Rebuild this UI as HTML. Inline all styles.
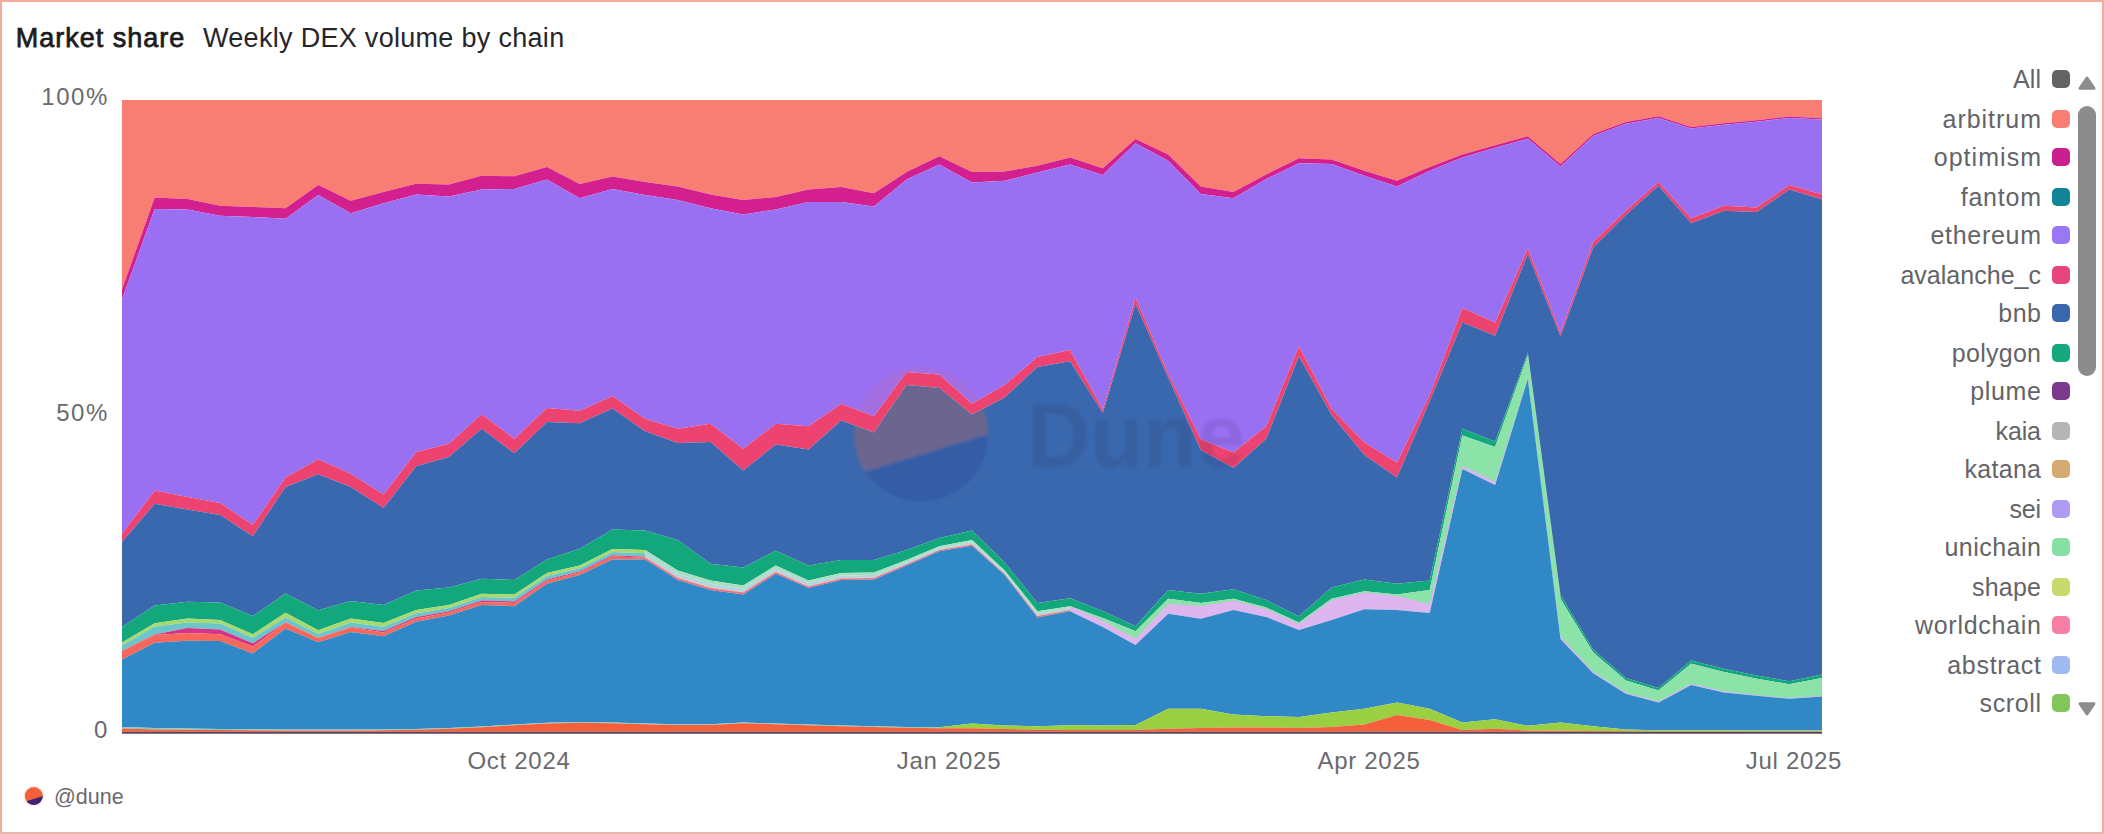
<!DOCTYPE html>
<html><head><meta charset="utf-8"><title>Market share</title>
<style>
html,body{margin:0;padding:0;background:#fff;}
body{width:2104px;height:834px;overflow:hidden;position:relative;font-family:"Liberation Sans",sans-serif;}
#frame{position:absolute;left:0;top:0;width:2100px;height:830px;border:2px solid #F6AC9D;border-bottom-color:#E5B6AC;background:#fff;}
.t{position:absolute;white-space:nowrap;}
#title{left:15.8px;top:21.5px;font-size:27px;font-weight:normal;-webkit-text-stroke:0.75px #1c1c1e;color:#1c1c1e;line-height:32px;letter-spacing:1.0px}
#sub{left:203px;top:21.5px;font-size:27px;color:#26262a;line-height:32px;letter-spacing:0.3px}
.yl{position:absolute;right:1995px;letter-spacing:1.6px;font-size:24px;color:#6a6a6e;line-height:28px;text-align:right;white-space:nowrap}
.xl{position:absolute;top:746.5px;letter-spacing:0.7px;font-size:24px;color:#6a6a6e;line-height:28px;transform:translateX(-50%);white-space:nowrap}
.lg{position:absolute;right:34px;height:38px;line-height:38px;font-size:25px;color:#646468;white-space:nowrap;text-align:right}
.lg span{display:inline-block;vertical-align:middle;margin-right:11px}
.lg i{display:inline-block;vertical-align:middle;width:18px;height:18px;border-radius:5px}
#sb{position:absolute;left:2078px;top:106px;width:18px;height:269.7px;border-radius:9px;background:#8c8c8c}
#foot{left:54px;top:783px;font-size:21.5px;color:#6a6a6e;line-height:28px}
svg{position:absolute;left:0;top:0}
</style></head><body>
<div id="frame"></div>
<div id="title" class="t">Market share</div>
<div id="sub" class="t">Weekly DEX volume by chain</div>
<div class="yl" style="top:83px">100%</div>
<div class="yl" style="top:399px">50%</div>
<div class="yl" style="top:716px">0</div>
<svg width="2104" height="834" viewBox="0 0 2104 834">
<g shape-rendering="geometricPrecision">
<polygon fill="#F87D73" points="122.0,100.0 154.7,100.0 187.4,100.0 220.1,100.0 252.8,100.0 285.5,100.0 318.2,100.0 350.8,100.0 383.5,100.0 416.2,100.0 448.9,100.0 481.6,100.0 514.3,100.0 547.0,100.0 579.7,100.0 612.4,100.0 645.1,100.0 677.8,100.0 710.5,100.0 743.2,100.0 775.8,100.0 808.5,100.0 841.2,100.0 873.9,100.0 906.6,100.0 939.3,100.0 972.0,100.0 1004.7,100.0 1037.4,100.0 1070.1,100.0 1102.8,100.0 1135.5,100.0 1168.2,100.0 1200.8,100.0 1233.5,100.0 1266.2,100.0 1298.9,100.0 1331.6,100.0 1364.3,100.0 1397.0,100.0 1429.7,100.0 1462.4,100.0 1495.1,100.0 1527.8,100.0 1560.5,100.0 1593.2,100.0 1625.8,100.0 1658.5,100.0 1691.2,100.0 1723.9,100.0 1756.6,100.0 1789.3,100.0 1822.0,100.0 1822.0,118.2 1789.3,116.5 1756.6,120.2 1723.9,123.2 1691.2,127.0 1658.5,116.2 1625.8,122.0 1593.2,134.0 1560.5,164.0 1527.8,136.2 1495.1,145.2 1462.4,154.5 1429.7,167.0 1397.0,180.8 1364.3,170.8 1331.6,159.5 1298.9,158.2 1266.2,174.5 1233.5,192.0 1200.8,186.5 1168.2,154.5 1135.5,139.0 1102.8,168.2 1070.1,157.5 1037.4,165.8 1004.7,171.5 972.0,172.0 939.3,156.2 906.6,172.0 873.9,193.2 841.2,187.0 808.5,189.5 775.8,197.0 743.2,200.0 710.5,194.5 677.8,186.5 645.1,182.0 612.4,176.5 579.7,184.0 547.0,167.0 514.3,176.2 481.6,175.8 448.9,184.5 416.2,183.8 383.5,192.0 350.8,200.8 318.2,185.0 285.5,208.2 252.8,207.0 220.1,205.8 187.4,199.0 154.7,197.5 122.0,289.5"/>
<polygon fill="#D4208F" points="122.0,289.5 154.7,197.5 187.4,199.0 220.1,205.8 252.8,207.0 285.5,208.2 318.2,185.0 350.8,200.8 383.5,192.0 416.2,183.8 448.9,184.5 481.6,175.8 514.3,176.2 547.0,167.0 579.7,184.0 612.4,176.5 645.1,182.0 677.8,186.5 710.5,194.5 743.2,200.0 775.8,197.0 808.5,189.5 841.2,187.0 873.9,193.2 906.6,172.0 939.3,156.2 972.0,172.0 1004.7,171.5 1037.4,165.8 1070.1,157.5 1102.8,168.2 1135.5,139.0 1168.2,154.5 1200.8,186.5 1233.5,192.0 1266.2,174.5 1298.9,158.2 1331.6,159.5 1364.3,170.8 1397.0,180.8 1429.7,167.0 1462.4,154.5 1495.1,145.2 1527.8,136.2 1560.5,164.0 1593.2,134.0 1625.8,122.0 1658.5,116.2 1691.2,127.0 1723.9,123.2 1756.6,120.2 1789.3,116.5 1822.0,118.2 1822.0,119.5 1789.3,118.0 1756.6,121.8 1723.9,124.8 1691.2,128.5 1658.5,118.0 1625.8,123.8 1593.2,136.0 1560.5,166.5 1527.8,138.8 1495.1,147.8 1462.4,157.5 1429.7,170.8 1397.0,186.5 1364.3,175.8 1331.6,164.0 1298.9,163.2 1266.2,179.0 1233.5,198.2 1200.8,194.0 1168.2,160.8 1135.5,143.2 1102.8,175.0 1070.1,164.5 1037.4,172.5 1004.7,180.8 972.0,182.5 939.3,164.5 906.6,179.5 873.9,206.5 841.2,202.0 808.5,202.0 775.8,209.5 743.2,214.5 710.5,208.2 677.8,200.0 645.1,195.0 612.4,189.0 579.7,198.2 547.0,179.5 514.3,189.0 481.6,189.5 448.9,196.5 416.2,194.5 383.5,203.2 350.8,213.2 318.2,195.0 285.5,218.8 252.8,217.0 220.1,215.8 187.4,209.5 154.7,209.0 122.0,299.3"/>
<polygon fill="#9A70F3" points="122.0,299.3 154.7,209.0 187.4,209.5 220.1,215.8 252.8,217.0 285.5,218.8 318.2,195.0 350.8,213.2 383.5,203.2 416.2,194.5 448.9,196.5 481.6,189.5 514.3,189.0 547.0,179.5 579.7,198.2 612.4,189.0 645.1,195.0 677.8,200.0 710.5,208.2 743.2,214.5 775.8,209.5 808.5,202.0 841.2,202.0 873.9,206.5 906.6,179.5 939.3,164.5 972.0,182.5 1004.7,180.8 1037.4,172.5 1070.1,164.5 1102.8,175.0 1135.5,143.2 1168.2,160.8 1200.8,194.0 1233.5,198.2 1266.2,179.0 1298.9,163.2 1331.6,164.0 1364.3,175.8 1397.0,186.5 1429.7,170.8 1462.4,157.5 1495.1,147.8 1527.8,138.8 1560.5,166.5 1593.2,136.0 1625.8,123.8 1658.5,118.0 1691.2,128.5 1723.9,124.8 1756.6,121.8 1789.3,118.0 1822.0,119.5 1822.0,194.5 1789.3,185.0 1756.6,207.5 1723.9,205.8 1691.2,218.2 1658.5,182.0 1625.8,210.8 1593.2,242.0 1560.5,332.5 1527.8,248.2 1495.1,322.5 1462.4,308.0 1429.7,395.0 1397.0,462.5 1364.3,442.5 1331.6,408.8 1298.9,346.2 1266.2,426.2 1233.5,452.5 1200.8,439.2 1168.2,373.8 1135.5,297.5 1102.8,409.5 1070.1,350.0 1037.4,357.0 1004.7,385.0 972.0,403.8 939.3,374.5 906.6,372.0 873.9,416.2 841.2,403.8 808.5,426.2 775.8,423.8 743.2,448.8 710.5,423.8 677.8,428.8 645.1,418.8 612.4,396.0 579.7,410.8 547.0,408.0 514.3,438.8 481.6,414.2 448.9,443.8 416.2,452.0 383.5,494.5 350.8,473.8 318.2,459.2 285.5,477.5 252.8,525.0 220.1,503.0 187.4,497.0 154.7,490.5 122.0,533.8"/>
<polygon fill="#EC4370" points="122.0,533.8 154.7,490.5 187.4,497.0 220.1,503.0 252.8,525.0 285.5,477.5 318.2,459.2 350.8,473.8 383.5,494.5 416.2,452.0 448.9,443.8 481.6,414.2 514.3,438.8 547.0,408.0 579.7,410.8 612.4,396.0 645.1,418.8 677.8,428.8 710.5,423.8 743.2,448.8 775.8,423.8 808.5,426.2 841.2,403.8 873.9,416.2 906.6,372.0 939.3,374.5 972.0,403.8 1004.7,385.0 1037.4,357.0 1070.1,350.0 1102.8,409.5 1135.5,297.5 1168.2,373.8 1200.8,439.2 1233.5,452.5 1266.2,426.2 1298.9,346.2 1331.6,408.8 1364.3,442.5 1397.0,462.5 1429.7,395.0 1462.4,308.0 1495.1,322.5 1527.8,248.2 1560.5,332.5 1593.2,242.0 1625.8,210.8 1658.5,182.0 1691.2,218.2 1723.9,205.8 1756.6,207.5 1789.3,185.0 1822.0,194.5 1822.0,199.5 1789.3,189.5 1756.6,212.0 1723.9,210.8 1691.2,223.2 1658.5,185.8 1625.8,215.0 1593.2,247.5 1560.5,336.2 1527.8,254.0 1495.1,335.8 1462.4,322.5 1429.7,401.2 1397.0,477.5 1364.3,455.0 1331.6,415.0 1298.9,356.2 1266.2,438.8 1233.5,468.0 1200.8,450.0 1168.2,377.5 1135.5,303.8 1102.8,413.0 1070.1,361.2 1037.4,367.0 1004.7,397.5 972.0,414.5 939.3,388.0 906.6,385.0 873.9,432.5 841.2,420.5 808.5,449.5 775.8,444.5 743.2,470.5 710.5,442.0 677.8,443.0 645.1,431.2 612.4,408.5 579.7,423.2 547.0,422.0 514.3,453.2 481.6,428.8 448.9,457.0 416.2,466.2 383.5,508.0 350.8,487.0 318.2,474.2 285.5,487.0 252.8,536.2 220.1,515.0 187.4,509.5 154.7,503.8 122.0,542.0"/>
<polygon fill="#3A68AE" points="122.0,542.0 154.7,503.8 187.4,509.5 220.1,515.0 252.8,536.2 285.5,487.0 318.2,474.2 350.8,487.0 383.5,508.0 416.2,466.2 448.9,457.0 481.6,428.8 514.3,453.2 547.0,422.0 579.7,423.2 612.4,408.5 645.1,431.2 677.8,443.0 710.5,442.0 743.2,470.5 775.8,444.5 808.5,449.5 841.2,420.5 873.9,432.5 906.6,385.0 939.3,388.0 972.0,414.5 1004.7,397.5 1037.4,367.0 1070.1,361.2 1102.8,413.0 1135.5,303.8 1168.2,377.5 1200.8,450.0 1233.5,468.0 1266.2,438.8 1298.9,356.2 1331.6,415.0 1364.3,455.0 1397.0,477.5 1429.7,401.2 1462.4,322.5 1495.1,335.8 1527.8,254.0 1560.5,336.2 1593.2,247.5 1625.8,215.0 1658.5,185.8 1691.2,223.2 1723.9,210.8 1756.6,212.0 1789.3,189.5 1822.0,199.5 1822.0,674.5 1789.3,681.2 1756.6,675.5 1723.9,668.8 1691.2,660.5 1658.5,688.0 1625.8,678.0 1593.2,649.5 1560.5,595.0 1527.8,352.5 1495.1,441.5 1462.4,428.8 1429.7,580.5 1397.0,583.8 1364.3,579.5 1331.6,587.5 1298.9,616.2 1266.2,600.0 1233.5,589.2 1200.8,593.8 1168.2,590.0 1135.5,626.2 1102.8,611.0 1070.1,598.2 1037.4,603.0 1004.7,562.5 972.0,530.5 939.3,538.0 906.6,550.0 873.9,560.0 841.2,560.0 808.5,565.5 775.8,550.8 743.2,567.5 710.5,563.8 677.8,540.0 645.1,530.5 612.4,529.5 579.7,548.8 547.0,559.5 514.3,580.0 481.6,578.8 448.9,587.5 416.2,590.5 383.5,605.0 350.8,601.0 318.2,610.3 285.5,593.5 252.8,616.0 220.1,602.5 187.4,601.8 154.7,605.5 122.0,627.0"/>
<polygon fill="#12A87B" points="122.0,627.0 154.7,605.5 187.4,601.8 220.1,602.5 252.8,616.0 285.5,593.5 318.2,610.3 350.8,601.0 383.5,605.0 416.2,590.5 448.9,587.5 481.6,578.8 514.3,580.0 547.0,559.5 579.7,548.8 612.4,529.5 645.1,530.5 677.8,540.0 710.5,563.8 743.2,567.5 775.8,550.8 808.5,565.5 841.2,560.0 873.9,560.0 906.6,550.0 939.3,538.0 972.0,530.5 1004.7,562.5 1037.4,603.0 1070.1,598.2 1102.8,611.0 1135.5,626.2 1168.2,590.0 1200.8,593.8 1233.5,589.2 1266.2,600.0 1298.9,616.2 1331.6,587.5 1364.3,579.5 1397.0,583.8 1429.7,580.5 1462.4,428.8 1495.1,441.5 1527.8,352.5 1560.5,595.0 1593.2,649.5 1625.8,678.0 1658.5,688.0 1691.2,660.5 1723.9,668.8 1756.6,675.5 1789.3,681.2 1822.0,674.5 1822.0,678.0 1789.3,684.2 1756.6,678.8 1723.9,672.0 1691.2,663.8 1658.5,690.5 1625.8,680.5 1593.2,652.5 1560.5,599.0 1527.8,355.5 1495.1,447.0 1462.4,435.5 1429.7,590.0 1397.0,594.5 1364.3,591.2 1331.6,598.8 1298.9,622.5 1266.2,607.5 1233.5,598.8 1200.8,603.0 1168.2,598.8 1135.5,631.2 1102.8,618.0 1070.1,606.2 1037.4,611.2 1004.7,570.5 972.0,540.0 939.3,546.2 906.6,560.0 873.9,572.5 841.2,573.0 808.5,580.5 775.8,565.5 743.2,585.5 710.5,580.5 677.8,570.5 645.1,550.0 612.4,549.0 579.7,565.5 547.0,573.0 514.3,594.5 481.6,593.8 448.9,605.0 416.2,610.0 383.5,623.0 350.8,618.6 318.2,630.3 285.5,612.8 252.8,634.2 220.1,620.0 187.4,618.4 154.7,623.2 122.0,642.5"/>
<polygon fill="#DDB6F0" points="1070.1,606.2 1102.8,618.0 1135.5,631.2 1168.2,598.8 1200.8,603.0 1233.5,598.8 1266.2,607.5 1298.9,622.5 1331.6,598.8 1364.3,591.2 1397.0,594.5 1429.7,590.0 1462.4,435.5 1495.1,447.0 1527.8,355.5 1560.5,599.0 1593.2,652.5 1625.8,680.5 1658.5,690.5 1691.2,663.8 1723.9,672.0 1756.6,678.8 1789.3,684.2 1822.0,678.0 1822.0,696.5 1789.3,698.8 1756.6,695.8 1723.9,692.5 1691.2,685.0 1658.5,702.5 1625.8,693.8 1593.2,673.2 1560.5,639.0 1527.8,379.0 1495.1,485.0 1462.4,469.0 1429.7,613.0 1397.0,610.0 1364.3,609.2 1331.6,620.0 1298.9,630.0 1266.2,617.0 1233.5,610.0 1200.8,618.8 1168.2,613.8 1135.5,645.0 1102.8,627.0 1070.1,611.2"/>
<polygon fill="#8CE3A8" points="1070.1,606.2 1102.8,618.0 1135.5,631.2 1168.2,598.8 1200.8,603.0 1233.5,598.8 1266.2,607.5 1298.9,622.5 1331.6,598.8 1364.3,591.2 1397.0,594.5 1429.7,590.0 1462.4,435.5 1495.1,447.0 1527.8,355.5 1560.5,599.0 1593.2,652.5 1625.8,680.5 1658.5,690.5 1691.2,663.8 1723.9,672.0 1756.6,678.8 1789.3,684.2 1822.0,678.0 1822.0,695.5 1789.3,698.0 1756.6,695.0 1723.9,691.2 1691.2,683.8 1658.5,701.2 1625.8,692.5 1593.2,671.5 1560.5,636.5 1527.8,377.5 1495.1,481.5 1462.4,466.0 1429.7,604.0 1397.0,596.0 1364.3,592.5 1331.6,600.0 1298.9,624.0 1266.2,609.0 1233.5,600.5 1200.8,606.0 1168.2,603.8 1135.5,638.8 1102.8,620.5 1070.1,606.2"/>
<polygon fill="#A8D96C" points="122.0,642.5 154.7,623.2 187.4,618.4 220.1,620.0 252.8,634.2 285.5,612.8 318.2,630.3 350.8,618.6 383.5,623.0 416.2,610.0 448.9,605.0 481.6,593.8 514.3,594.5 547.0,573.0 579.7,565.5 612.4,549.0 645.1,550.0 645.1,553.3 612.4,551.9 579.7,568.2 547.0,576.0 514.3,597.8 481.6,596.9 448.9,607.9 416.2,613.3 383.5,626.7 350.8,622.6 318.2,634.1 285.5,617.5 252.8,637.7 220.1,623.6 187.4,622.4 154.7,626.6 122.0,645.6 "/>
<polygon fill="#6CC5C8" points="122.0,645.6 154.7,626.6 187.4,622.4 220.1,623.6 252.8,637.7 285.5,617.5 318.2,634.1 350.8,622.6 383.5,626.7 416.2,613.3 448.9,607.9 481.6,596.9 514.3,597.8 547.0,576.0 579.7,568.2 612.4,551.9 645.1,553.3 645.1,556.8 612.4,555.3 579.7,571.2 547.0,579.5 514.3,601.5 481.6,600.5 448.9,611.3 416.2,617.0 383.5,631.0 350.8,627.0 318.2,637.7 285.5,622.2 252.8,643.3 220.1,629.5 187.4,628.0 154.7,634.4 122.0,650.7"/>
<polygon fill="#D6348C" points="122.0,650.7 154.7,634.4 187.4,628.0 220.1,629.5 252.8,643.3 285.5,622.2 318.2,637.7 350.8,627.0 383.5,631.0 416.2,617.0 448.9,611.3 481.6,600.5 514.3,601.5 547.0,579.5 579.7,571.2 612.4,555.3 645.1,556.8 645.1,557.4 612.4,556.6 579.7,572.3 547.0,580.7 514.3,603.0 481.6,601.9 448.9,612.6 416.2,618.5 383.5,632.5 350.8,627.4 318.2,637.9 285.5,622.5 252.8,646.6 220.1,634.3 187.4,633.0 154.7,635.0 122.0,651.0"/>
<polygon fill="#F8685A" points="122.0,651.0 154.7,635.0 187.4,633.0 220.1,634.3 252.8,646.6 285.5,622.5 318.2,637.9 350.8,627.4 383.5,632.5 416.2,618.5 448.9,612.6 481.6,601.9 514.3,603.0 547.0,580.7 579.7,572.3 612.4,556.6 645.1,557.4 645.1,559.5 612.4,559.5 579.7,575.0 547.0,583.8 514.3,606.2 481.6,605.0 448.9,615.5 416.2,621.8 383.5,636.2 350.8,632.0 318.2,642.2 285.5,628.5 252.8,653.5 220.1,641.1 187.4,640.8 154.7,642.8 122.0,659.5"/>
<polygon fill="#A6E0C0" points="645.1,550.0 677.8,570.5 710.5,580.5 743.2,585.5 775.8,565.5 808.5,580.5 841.2,573.0 873.9,572.5 906.6,560.0 939.3,546.2 972.0,540.0 1004.7,570.5 1037.4,611.2 1070.1,606.2 1070.1,608.0 1037.4,613.4 1004.7,572.1 972.0,542.0 939.3,548.0 906.6,561.9 873.9,575.0 841.2,575.5 808.5,583.1 775.8,568.4 743.2,588.6 710.5,583.8 677.8,573.8 645.1,553.3"/>
<polygon fill="#B2D6DA" points="645.1,553.3 677.8,573.8 710.5,583.8 743.2,588.6 775.8,568.4 808.5,583.1 841.2,575.5 873.9,575.0 906.6,561.9 939.3,548.0 972.0,542.0 1004.7,572.1 1037.4,613.4 1070.1,608.0 1070.1,609.9 1037.4,615.8 1004.7,573.7 972.0,544.1 939.3,549.9 906.6,564.0 873.9,577.5 841.2,578.0 808.5,585.9 775.8,571.4 743.2,592.0 710.5,587.3 677.8,577.3 645.1,556.8"/>
<polygon fill="#E9A9BC" points="645.1,556.8 677.8,577.3 710.5,587.3 743.2,592.0 775.8,571.4 808.5,585.9 841.2,578.0 873.9,577.5 906.6,564.0 939.3,549.9 972.0,544.1 1004.7,573.7 1037.4,615.8 1070.1,609.9 1070.1,610.1 1037.4,616.1 1004.7,574.0 972.0,544.5 939.3,550.1 906.6,564.3 873.9,578.0 841.2,578.5 808.5,586.4 775.8,571.9 743.2,592.5 710.5,587.9 677.8,577.9 645.1,557.4"/>
<polygon fill="#F2707A" points="645.1,557.4 677.8,577.9 710.5,587.9 743.2,592.5 775.8,571.9 808.5,586.4 841.2,578.5 873.9,578.0 906.6,564.3 939.3,550.1 972.0,544.5 1004.7,574.0 1037.4,616.1 1070.1,610.1 1070.1,611.2 1037.4,617.5 1004.7,575.0 972.0,545.8 939.3,551.2 906.6,565.5 873.9,579.5 841.2,580.0 808.5,588.0 775.8,573.8 743.2,594.5 710.5,590.0 677.8,580.0 645.1,559.5"/>
<polygon fill="#3089C6" points="122.0,659.5 154.7,642.8 187.4,640.8 220.1,641.1 252.8,653.5 285.5,628.5 318.2,642.2 350.8,632.0 383.5,636.2 416.2,621.8 448.9,615.5 481.6,605.0 514.3,606.2 547.0,583.8 579.7,575.0 612.4,559.5 645.1,559.5 677.8,580.0 710.5,590.0 743.2,594.5 775.8,573.8 808.5,588.0 841.2,580.0 873.9,579.5 906.6,565.5 939.3,551.2 972.0,545.8 1004.7,575.0 1037.4,617.5 1070.1,611.2 1102.8,627.0 1135.5,645.0 1168.2,613.8 1200.8,618.8 1233.5,610.0 1266.2,617.0 1298.9,630.0 1331.6,620.0 1364.3,609.2 1397.0,610.0 1429.7,613.0 1462.4,469.0 1495.1,485.0 1527.8,379.0 1560.5,639.0 1593.2,673.2 1625.8,693.8 1658.5,702.5 1691.2,685.0 1723.9,692.5 1756.6,695.8 1789.3,698.8 1822.0,696.5 1822.0,730.5 1789.3,730.5 1756.6,730.5 1723.9,730.3 1691.2,730.3 1658.5,730.3 1625.8,729.5 1593.2,726.2 1560.5,722.5 1527.8,725.8 1495.1,719.2 1462.4,722.5 1429.7,708.8 1397.0,702.5 1364.3,708.8 1331.6,712.5 1298.9,717.0 1266.2,716.2 1233.5,714.5 1200.8,708.8 1168.2,708.8 1135.5,725.0 1102.8,725.5 1070.1,725.3 1037.4,726.3 1004.7,725.5 972.0,723.5 939.3,727.3 906.6,727.0 873.9,726.3 841.2,725.5 808.5,724.6 775.8,723.5 743.2,722.5 710.5,724.3 677.8,724.3 645.1,723.6 612.4,722.6 579.7,722.0 547.0,722.8 514.3,724.5 481.6,726.5 448.9,728.0 416.2,729.0 383.5,729.5 350.8,729.5 318.2,729.5 285.5,729.5 252.8,729.3 220.1,729.0 187.4,728.5 154.7,728.0 122.0,727.0"/>
<polygon fill="#9BCF42" points="939.3,727.3 972.0,723.5 1004.7,725.5 1037.4,726.3 1070.1,725.3 1102.8,725.5 1135.5,725.0 1168.2,708.8 1200.8,708.8 1233.5,714.5 1266.2,716.2 1298.9,717.0 1331.6,712.5 1364.3,708.8 1397.0,702.5 1429.7,708.8 1462.4,722.5 1495.1,719.2 1527.8,725.8 1560.5,722.5 1593.2,726.2 1625.8,729.5 1658.5,730.3 1691.2,730.3 1723.9,730.3 1756.6,730.5 1789.3,730.5 1822.0,730.5 1822.0,731.5 1789.3,731.5 1756.6,731.5 1723.9,731.5 1691.2,731.5 1658.5,731.5 1625.8,731.3 1593.2,731.0 1560.5,730.8 1527.8,730.5 1495.1,728.8 1462.4,730.0 1429.7,720.0 1397.0,715.0 1364.3,724.5 1331.6,727.0 1298.9,728.0 1266.2,727.5 1233.5,727.5 1200.8,728.0 1168.2,728.8 1135.5,730.0 1102.8,730.0 1070.1,730.0 1037.4,729.7 1004.7,729.0 972.0,728.3 939.3,728.3"/>
<polygon fill="#86C9B4" points="122.0,727.0 154.7,728.0 187.4,728.5 220.1,729.0 252.8,729.3 285.5,729.5 318.2,729.5 350.8,729.5 383.5,729.5 416.2,729.0 448.9,728.0 481.6,726.5 514.3,724.5 547.0,722.8 579.7,722.0 612.4,722.6 645.1,723.6 677.8,724.3 710.5,724.3 743.2,722.5 775.8,723.5 808.5,724.6 841.2,725.5 873.9,726.3 906.6,727.0 939.3,727.3 939.3,728.3 906.6,727.8 873.9,727.0 841.2,726.2 808.5,725.3 775.8,724.2 743.2,723.2 710.5,725.0 677.8,725.0 645.1,724.3 612.4,723.3 579.7,722.7 547.0,723.5 514.3,725.3 481.6,727.3 448.9,728.8 416.2,729.8 383.5,730.3 350.8,730.4 318.2,730.4 285.5,730.4 252.8,730.3 220.1,730.1 187.4,729.8 154.7,729.4 122.0,728.6"/>
<polygon fill="#F4603C" points="122.0,728.6 154.7,729.4 187.4,729.8 220.1,730.1 252.8,730.3 285.5,730.4 318.2,730.4 350.8,730.4 383.5,730.3 416.2,729.8 448.9,728.8 481.6,727.3 514.3,725.3 547.0,723.5 579.7,722.7 612.4,723.3 645.1,724.3 677.8,725.0 710.5,725.0 743.2,723.2 775.8,724.2 808.5,725.3 841.2,726.2 873.9,727.0 906.6,727.8 939.3,728.3 972.0,728.3 1004.7,729.0 1037.4,729.7 1070.1,730.0 1102.8,730.0 1135.5,730.0 1168.2,728.8 1200.8,728.0 1233.5,727.5 1266.2,727.5 1298.9,728.0 1331.6,727.0 1364.3,724.5 1397.0,715.0 1429.7,720.0 1462.4,730.0 1495.1,728.8 1527.8,730.5 1560.5,730.8 1593.2,731.0 1625.8,731.3 1658.5,731.5 1691.2,731.5 1723.9,731.5 1756.6,731.5 1789.3,731.5 1822.0,731.5 1822.0,731.8 1789.3,731.8 1756.6,731.8 1723.9,731.8 1691.2,731.8 1658.5,731.8 1625.8,731.8 1593.2,731.8 1560.5,731.8 1527.8,731.8 1495.1,731.8 1462.4,731.8 1429.7,731.8 1397.0,731.8 1364.3,731.8 1331.6,731.8 1298.9,731.8 1266.2,731.8 1233.5,731.8 1200.8,731.8 1168.2,731.8 1135.5,731.8 1102.8,731.8 1070.1,731.8 1037.4,731.8 1004.7,731.8 972.0,731.8 939.3,731.8 906.6,731.8 873.9,731.8 841.2,731.8 808.5,731.8 775.8,731.8 743.2,731.8 710.5,731.8 677.8,731.8 645.1,731.8 612.4,731.8 579.7,731.8 547.0,731.8 514.3,731.8 481.6,731.8 448.9,731.8 416.2,731.8 383.5,731.8 350.8,731.8 318.2,731.8 285.5,731.8 252.8,731.8 220.1,731.8 187.4,731.8 154.7,731.8 122.0,731.8"/>
<polygon fill="#5A4658" points="122.0,731.8 154.7,731.8 187.4,731.8 220.1,731.8 252.8,731.8 285.5,731.8 318.2,731.8 350.8,731.8 383.5,731.8 416.2,731.8 448.9,731.8 481.6,731.8 514.3,731.8 547.0,731.8 579.7,731.8 612.4,731.8 645.1,731.8 677.8,731.8 710.5,731.8 743.2,731.8 775.8,731.8 808.5,731.8 841.2,731.8 873.9,731.8 906.6,731.8 939.3,731.8 972.0,731.8 1004.7,731.8 1037.4,731.8 1070.1,731.8 1102.8,731.8 1135.5,731.8 1168.2,731.8 1200.8,731.8 1233.5,731.8 1266.2,731.8 1298.9,731.8 1331.6,731.8 1364.3,731.8 1397.0,731.8 1429.7,731.8 1462.4,731.8 1495.1,731.8 1527.8,731.8 1560.5,731.8 1593.2,731.8 1625.8,731.8 1658.5,731.8 1691.2,731.8 1723.9,731.8 1756.6,731.8 1789.3,731.8 1822.0,731.8 1822.0,733.8 1789.3,733.8 1756.6,733.8 1723.9,733.8 1691.2,733.8 1658.5,733.8 1625.8,733.8 1593.2,733.8 1560.5,733.8 1527.8,733.8 1495.1,733.8 1462.4,733.8 1429.7,733.8 1397.0,733.8 1364.3,733.8 1331.6,733.8 1298.9,733.8 1266.2,733.8 1233.5,733.8 1200.8,733.8 1168.2,733.8 1135.5,733.8 1102.8,733.8 1070.1,733.8 1037.4,733.8 1004.7,733.8 972.0,733.8 939.3,733.8 906.6,733.8 873.9,733.8 841.2,733.8 808.5,733.8 775.8,733.8 743.2,733.8 710.5,733.8 677.8,733.8 645.1,733.8 612.4,733.8 579.7,733.8 547.0,733.8 514.3,733.8 481.6,733.8 448.9,733.8 416.2,733.8 383.5,733.8 350.8,733.8 318.2,733.8 285.5,733.8 252.8,733.8 220.1,733.8 187.4,733.8 154.7,733.8 122.0,733.8"/>
</g>
<g id="wm"><filter id="bl" x="-10%" y="-10%" width="120%" height="120%"><feGaussianBlur stdDeviation="1.5"/></filter>
<clipPath id="cc"><circle cx="921" cy="434.5" r="67"/></clipPath>
<clipPath id="cb"><polygon points="122.0,542.0 154.7,503.8 187.4,509.5 220.1,515.0 252.8,536.2 285.5,487.0 318.2,474.2 350.8,487.0 383.5,508.0 416.2,466.2 448.9,457.0 481.6,428.8 514.3,453.2 547.0,422.0 579.7,423.2 612.4,408.5 645.1,431.2 677.8,443.0 710.5,442.0 743.2,470.5 775.8,444.5 808.5,449.5 841.2,420.5 873.9,432.5 906.6,385.0 939.3,388.0 972.0,414.5 1004.7,397.5 1037.4,367.0 1070.1,361.2 1102.8,413.0 1135.5,303.8 1168.2,377.5 1200.8,450.0 1233.5,468.0 1266.2,438.8 1298.9,356.2 1331.6,415.0 1364.3,455.0 1397.0,477.5 1429.7,401.2 1462.4,322.5 1495.1,335.8 1527.8,254.0 1560.5,336.2 1593.2,247.5 1625.8,215.0 1658.5,185.8 1691.2,223.2 1723.9,210.8 1756.6,212.0 1789.3,189.5 1822.0,199.5 1822.0,674.5 1789.3,681.2 1756.6,675.5 1723.9,668.8 1691.2,660.5 1658.5,688.0 1625.8,678.0 1593.2,649.5 1560.5,595.0 1527.8,352.5 1495.1,441.5 1462.4,428.8 1429.7,580.5 1397.0,583.8 1364.3,579.5 1331.6,587.5 1298.9,616.2 1266.2,600.0 1233.5,589.2 1200.8,593.8 1168.2,590.0 1135.5,626.2 1102.8,611.0 1070.1,598.2 1037.4,603.0 1004.7,562.5 972.0,530.5 939.3,538.0 906.6,550.0 873.9,560.0 841.2,560.0 808.5,565.5 775.8,550.8 743.2,567.5 710.5,563.8 677.8,540.0 645.1,530.5 612.4,529.5 579.7,548.8 547.0,559.5 514.3,580.0 481.6,578.8 448.9,587.5 416.2,590.5 383.5,605.0 350.8,601.0 318.2,610.3 285.5,593.5 252.8,616.0 220.1,602.5 187.4,601.8 154.7,605.5 122.0,627.0"/></clipPath>
<clipPath id="ce"><polygon points="122.0,299.3 154.7,209.0 187.4,209.5 220.1,215.8 252.8,217.0 285.5,218.8 318.2,195.0 350.8,213.2 383.5,203.2 416.2,194.5 448.9,196.5 481.6,189.5 514.3,189.0 547.0,179.5 579.7,198.2 612.4,189.0 645.1,195.0 677.8,200.0 710.5,208.2 743.2,214.5 775.8,209.5 808.5,202.0 841.2,202.0 873.9,206.5 906.6,179.5 939.3,164.5 972.0,182.5 1004.7,180.8 1037.4,172.5 1070.1,164.5 1102.8,175.0 1135.5,143.2 1168.2,160.8 1200.8,194.0 1233.5,198.2 1266.2,179.0 1298.9,163.2 1331.6,164.0 1364.3,175.8 1397.0,186.5 1429.7,170.8 1462.4,157.5 1495.1,147.8 1527.8,138.8 1560.5,166.5 1593.2,136.0 1625.8,123.8 1658.5,118.0 1691.2,128.5 1723.9,124.8 1756.6,121.8 1789.3,118.0 1822.0,119.5 1822.0,194.5 1789.3,185.0 1756.6,207.5 1723.9,205.8 1691.2,218.2 1658.5,182.0 1625.8,210.8 1593.2,242.0 1560.5,332.5 1527.8,248.2 1495.1,322.5 1462.4,308.0 1429.7,395.0 1397.0,462.5 1364.3,442.5 1331.6,408.8 1298.9,346.2 1266.2,426.2 1233.5,452.5 1200.8,439.2 1168.2,373.8 1135.5,297.5 1102.8,409.5 1070.1,350.0 1037.4,357.0 1004.7,385.0 972.0,403.8 939.3,374.5 906.6,372.0 873.9,416.2 841.2,403.8 808.5,426.2 775.8,423.8 743.2,448.8 710.5,423.8 677.8,428.8 645.1,418.8 612.4,396.0 579.7,410.8 547.0,408.0 514.3,438.8 481.6,414.2 448.9,443.8 416.2,452.0 383.5,494.5 350.8,473.8 318.2,459.2 285.5,477.5 252.8,525.0 220.1,503.0 187.4,497.0 154.7,490.5 122.0,533.8"/></clipPath>
<g filter="url(#bl)"><g clip-path="url(#cc)">
<g clip-path="url(#cb)">
<polygon points="840,350 1010,350 1010,427 840,479" fill="#F4603C" opacity="0.27"/>
<polygon points="840,479 1010,427 1010,520 840,520" fill="#1E1870" opacity="0.11"/>
</g>
<g clip-path="url(#ce)">
<polygon points="840,350 1010,350 1010,427 840,479" fill="#F4603C" opacity="0.10"/>
</g>
</g></g>
<text x="1027" y="467" font-family="Liberation Sans, sans-serif" font-weight="bold" font-size="90" fill="#1b1b3a" opacity="0.11" filter="url(#bl)" textLength="218" lengthAdjust="spacingAndGlyphs">Dune</text>
</g>
<polygon points="2080,88.3 2094,88.3 2087,78" fill="#8c8c8c" stroke="#8c8c8c" stroke-width="3" stroke-linejoin="round"/>
<polygon points="2080,703.7 2094,703.7 2087,714" fill="#8c8c8c" stroke="#8c8c8c" stroke-width="3" stroke-linejoin="round"/>
<circle cx="33.8" cy="796" r="10.5" fill="#F9D9DD" opacity="0.55"/>
<circle cx="33.8" cy="796" r="9" fill="#F4603C"/>
<clipPath id="c2"><circle cx="33.8" cy="796" r="9"/></clipPath>
<polygon clip-path="url(#c2)" points="20,803.2 47,794.8 47,810 20,810" fill="#3A2578"/>
</svg>
<div class="xl" style="left:519px">Oct 2024</div>
<div class="xl" style="left:949px">Jan 2025</div>
<div class="xl" style="left:1369px">Apr 2025</div>
<div class="xl" style="left:1794px">Jul 2025</div>
<div class="lg" style="top:57.8px"><span style="letter-spacing:0.10px;margin-right:10.90px">All</span><i style="background:#626464"></i></div>
<div class="lg" style="top:97.8px"><span style="letter-spacing:0.97px;margin-right:10.03px">arbitrum</span><i style="background:#F87D73"></i></div>
<div class="lg" style="top:135.8px"><span style="letter-spacing:1.04px;margin-right:9.96px">optimism</span><i style="background:#CC1F8F"></i></div>
<div class="lg" style="top:175.8px"><span style="letter-spacing:0.77px;margin-right:10.23px">fantom</span><i style="background:#0F8597"></i></div>
<div class="lg" style="top:213.8px"><span style="letter-spacing:0.70px;margin-right:10.30px">ethereum</span><i style="background:#9A78F5"></i></div>
<div class="lg" style="top:253.8px"><span style="letter-spacing:0.02px;margin-right:10.98px">avalanche_c</span><i style="background:#E8457A"></i></div>
<div class="lg" style="top:291.8px"><span style="letter-spacing:0.50px;margin-right:10.50px">bnb</span><i style="background:#3A68AE"></i></div>
<div class="lg" style="top:331.8px"><span style="letter-spacing:0.26px;margin-right:10.74px">polygon</span><i style="background:#14A87C"></i></div>
<div class="lg" style="top:369.8px"><span style="letter-spacing:0.66px;margin-right:10.34px">plume</span><i style="background:#7B3A8C"></i></div>
<div class="lg" style="top:409.8px"><span style="letter-spacing:-0.15px;margin-right:11.15px">kaia</span><i style="background:#B5B5B5"></i></div>
<div class="lg" style="top:447.8px"><span style="letter-spacing:0.28px;margin-right:10.72px">katana</span><i style="background:#D4AA72"></i></div>
<div class="lg" style="top:487.8px"><span style="letter-spacing:-0.17px;margin-right:11.17px">sei</span><i style="background:#AF9CF2"></i></div>
<div class="lg" style="top:525.8px"><span style="letter-spacing:0.49px;margin-right:10.51px">unichain</span><i style="background:#86DFA3"></i></div>
<div class="lg" style="top:565.8px"><span style="letter-spacing:0.24px;margin-right:10.76px">shape</span><i style="background:#C9DA6C"></i></div>
<div class="lg" style="top:603.8px"><span style="letter-spacing:0.73px;margin-right:10.27px">worldchain</span><i style="background:#F77FA3"></i></div>
<div class="lg" style="top:643.8px"><span style="letter-spacing:0.69px;margin-right:10.31px">abstract</span><i style="background:#9FBAF1"></i></div>
<div class="lg" style="top:681.8px"><span style="letter-spacing:0.63px;margin-right:10.37px">scroll</span><i style="background:#82C65A"></i></div>
<div id="sb"></div>
<div id="foot" class="t">@dune</div>
</body></html>
